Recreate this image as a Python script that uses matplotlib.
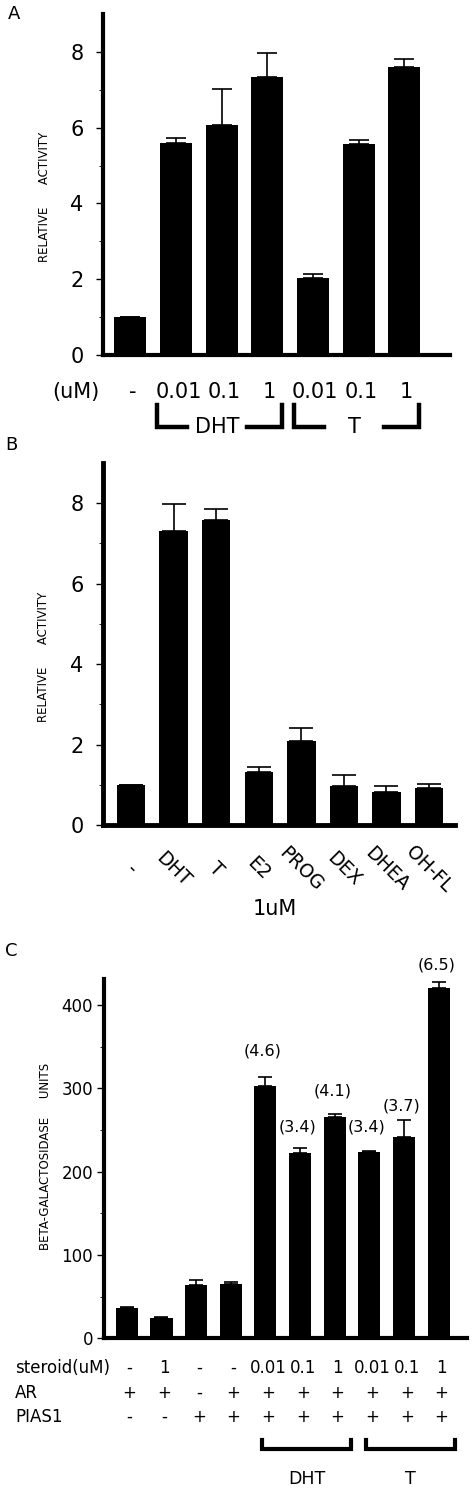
import numpy as np
import matplotlib
matplotlib.use("Agg")
import matplotlib.pyplot as plt
from matplotlib.transforms import blended_transform_factory as btf

# ---------------- data ----------------
# Panel A
a_labels = ["-", "0.01", "0.1", "1", "0.01", "0.1", "1"]
a_values = [1.0, 5.60, 6.06, 7.33, 2.03, 5.56, 7.59]
a_err = [0.0, 0.13, 0.97, 0.65, 0.12, 0.12, 0.23]
a_groups = [("DHT", 1, 3), ("T", 4, 6)]
a_yticks = [0, 2, 4, 6, 8]

# Panel B
b_labels = ["-", "DHT", "T", "E2", "PROG", "DEX", "DHEA", "OH-FL"]
b_values = [1.0, 7.30, 7.58, 1.31, 2.09, 0.98, 0.83, 0.92]
b_err = [0.0, 0.69, 0.27, 0.13, 0.32, 0.27, 0.13, 0.11]
b_yticks = [0, 2, 4, 6, 8]

# Panel C
c_steroid = ["-", "1", "-", "-", "0.01", "0.1", "1", "0.01", "0.1", "1"]
c_ar = ["+", "+", "-", "+", "+", "+", "+", "+", "+", "+"]
c_pias = ["-", "-", "+", "+", "+", "+", "+", "+", "+", "+"]
c_values = [36, 24, 64, 65.5, 302.8, 222, 266, 223, 241, 420]
c_err = [1, 1, 6.5, 2, 10.8, 6, 2.8, 2, 20.6, 7]
c_fold = [None, None, None, None, "(4.6)", "(3.4)", "(4.1)", "(3.4)", "(3.7)", "(6.5)"]
c_fold_y = [None, None, None, None, 345, 254, 297, 254, 279, 448]
c_groups = [("DHT", 4, 6), ("T", 7, 9)]
c_yticks = [0, 100, 200, 300, 400]

plt.rcParams['font.family'] = ['DejaVu Sans']

W, H = 474, 1493
fig = plt.figure(figsize=(W / 100, H / 100), dpi=100)


def px_axes(left, right, top, bottom):
    return fig.add_axes([left / W, 1 - bottom / H, (right - left) / W, (bottom - top) / H])


def style(ax, lw, ticksize, pad):
    for s in ("top", "right"):
        ax.spines[s].set_visible(False)
    ax.spines["left"].set_linewidth(lw)
    ax.spines["bottom"].set_linewidth(lw)
    ax.set_xticks([])
    ax.tick_params(axis="y", which="major", direction="out", length=5, width=1,
                   labelsize=ticksize, pad=pad)
    ax.tick_params(axis="y", which="minor", direction="out", length=3, width=0.6)
    ax.set_facecolor("white")


# ---------------- Panel A ----------------
axA = px_axes(103, 450, 14, 355)
xa = np.arange(len(a_values))
axA.bar(xa, a_values, width=0.7, color="black", zorder=2)
axA.errorbar(xa, a_values, yerr=[np.zeros(len(a_err)), a_err], fmt="none",
             ecolor="black", elinewidth=1.2, capsize=7.5, capthick=1.2, zorder=3)
axA.set_xlim(-0.6, 7.0)
axA.set_ylim(0, 9)
axA.set_yticks(a_yticks)
axA.set_yticks([1, 3, 5, 7], minor=True)
style(axA, 3, 15, 9)
trA = btf(axA.transData, axA.transAxes)
for i, lab in enumerate(a_labels):
    axA.text(xa[i] + 0.05, -0.1085, lab, transform=trA, ha="center", va="center",
             fontsize=15, clip_on=False)
axA.text(-0.01, -0.1085, "(uM)", transform=axA.transAxes, ha="right", va="center",
         fontsize=15)
yt, yb = -0.147, -0.212
for name, g0, g1 in a_groups:
    L, R = g0 - 0.42, g1 + 0.32
    axA.plot([L + 0.66, L, L], [yb, yb, yt], transform=trA, color="black", lw=3.2,
             clip_on=False, solid_joinstyle="miter")
    axA.plot([R - 0.77, R, R], [yb, yb, yt], transform=trA, color="black", lw=3.2,
             clip_on=False, solid_joinstyle="miter")
    axA.text((L + R) / 2 - 0.05, yb, name, transform=trA, ha="center", va="center",
             fontsize=15)
axA.text(-0.17, 0.465, "RELATIVE      ACTIVITY", transform=axA.transAxes, rotation=90,
         ha="center", va="center", fontsize=8.5)
fig.text(14 / W, 1 - 14 / H, "A", ha="center", va="center", fontsize=13)

# ---------------- Panel B ----------------
axB = px_axes(103, 455, 463, 825)
xb = np.arange(len(b_values))
axB.bar(xb, b_values, width=0.67, color="black", zorder=2)
axB.errorbar(xb, b_values, yerr=[np.zeros(len(b_err)), b_err], fmt="none",
             ecolor="black", elinewidth=1.2, capsize=8.5, capthick=1.2, zorder=3)
axB.set_xlim(-0.66, 7.61)
axB.set_ylim(0, 9)
axB.set_yticks(b_yticks)
axB.set_yticks([1, 3, 5, 7], minor=True)
style(axB, 3.5, 15, 9)
trB = btf(axB.transData, axB.transAxes)
for i, lab in enumerate(b_labels):
    axB.text(xb[i], -0.1215, lab, transform=trB, ha="center", va="center",
             rotation=-45, fontsize=13.5, clip_on=False)
axB.text(0.489, -0.232, "1uM", transform=axB.transAxes, ha="center", va="center",
         fontsize=15)
axB.text(-0.17, 0.465, "RELATIVE      ACTIVITY", transform=axB.transAxes, rotation=90,
         ha="center", va="center", fontsize=8.5)
fig.text(11 / W, 1 - 445 / H, "B", ha="center", va="center", fontsize=13)

# ---------------- Panel C ----------------
axC = px_axes(104, 467, 979, 1338.3)
xc = np.arange(len(c_values))
axC.bar(xc, c_values, width=0.64, color="black", zorder=2)
axC.errorbar(xc, c_values, yerr=[np.zeros(len(c_err)), c_err], fmt="none",
             ecolor="black", elinewidth=1.2, capsize=5, capthick=1.2, zorder=3)
axC.set_xlim(-0.66, 9.82)
axC.set_ylim(0, 431)
axC.set_yticks(c_yticks)
axC.set_yticks([50, 150, 250, 350], minor=True)
style(axC, 3, 12, 3)
trC = btf(axC.transData, axC.transAxes)
for i, (lab, y) in enumerate(zip(c_fold, c_fold_y)):
    if lab is not None:
        axC.text(xc[i] - 0.07, y, lab, ha="center", va="center", fontsize=11.5,
                 clip_on=False)
rows = [("steroid(uM)", c_steroid, -0.0827), ("AR", c_ar, -0.152), ("PIAS1", c_pias, -0.219)]
for name, vals, yy in rows:
    axC.text(-0.245, yy, name, transform=axC.transAxes, ha="left", va="center",
             fontsize=12)
    for i, v in enumerate(vals):
        axC.text(xc[i] + 0.08, yy, v, transform=trC, ha="center", va="center",
                 fontsize=12, clip_on=False)
yt, yb = -0.283, -0.308
for name, g0, g1 in c_groups:
    L, R = g0 - 0.1, g1 + 0.48
    axC.plot([L, L, R, R], [yt, yb, yb, yt], transform=trC, color="black", lw=3,
             clip_on=False, solid_joinstyle="miter")
    axC.text((L + R) / 2, -0.392, name, transform=trC, ha="center", va="center",
             fontsize=12.5)
axC.text(-0.16, 0.507, "BETA-GALACTOSIDASE     UNITS", transform=axC.transAxes,
         rotation=90, ha="center", va="center", fontsize=8.5)
fig.text(11 / W, 1 - 951 / H, "C", ha="center", va="center", fontsize=13)

fig.savefig("out.png", dpi=100, facecolor="white")
